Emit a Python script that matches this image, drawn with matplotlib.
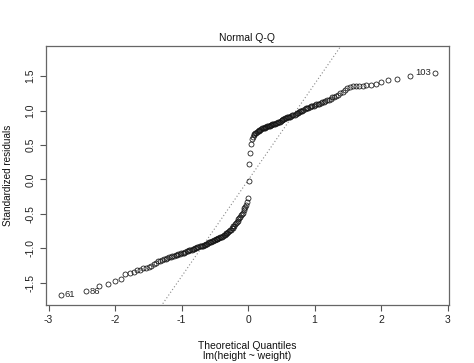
from statistics import NormalDist

import matplotlib
matplotlib.use('Agg')
import matplotlib.pyplot as plt
import numpy as np

plt.rcParams['font.family'] = ['Liberation Sans', 'DejaVu Sans']
plt.rcParams['axes.unicode_minus'] = False

# sorted standardized residuals, lm(height ~ weight), n = 200
resid_low = [
    -1.67, -1.62, -1.54, -1.51, -1.48, -1.45, -1.37, -1.35, -1.34, -1.32,
    -1.31, -1.29, -1.28, -1.27, -1.25, -1.23, -1.21, -1.19, -1.18, -1.17,
    -1.16, -1.15, -1.14, -1.13, -1.12, -1.11, -1.11, -1.10, -1.09, -1.08,
    -1.08, -1.07, -1.06, -1.06, -1.05, -1.04, -1.04, -1.03, -1.03, -1.02,
    -1.01, -1.01, -1.00, -0.99, -0.98, -0.98, -0.97, -0.97, -0.96, -0.96,
    -0.95, -0.95, -0.94, -0.93, -0.92, -0.91, -0.91, -0.90, -0.89, -0.89,
    -0.88, -0.88, -0.87, -0.86, -0.86, -0.85, -0.85, -0.84, -0.84, -0.83,
    -0.82, -0.81, -0.80, -0.79, -0.78, -0.77, -0.76, -0.75, -0.74, -0.73,
    -0.71, -0.70, -0.68, -0.67, -0.65, -0.63, -0.62, -0.60, -0.58, -0.56,
    -0.54, -0.52, -0.50, -0.48, -0.45, -0.42, -0.40, -0.37, -0.32, -0.27,
]
resid_high = [
    -0.02, 0.23, 0.38, 0.52, 0.58, 0.62, 0.64, 0.66, 0.67, 0.68,
    0.69, 0.70, 0.71, 0.72, 0.72, 0.73, 0.74, 0.74, 0.75, 0.75,
    0.76, 0.76, 0.77, 0.77, 0.78, 0.78, 0.79, 0.79, 0.80, 0.80,
    0.81, 0.81, 0.82, 0.82, 0.83, 0.84, 0.84, 0.85, 0.86, 0.87,
    0.88, 0.88, 0.89, 0.89, 0.90, 0.90, 0.91, 0.91, 0.92, 0.93,
    0.93, 0.94, 0.95, 0.96, 0.97, 0.98, 0.99, 0.99, 1.00, 1.01,
    1.02, 1.03, 1.03, 1.04, 1.05, 1.06, 1.06, 1.07, 1.08, 1.09,
    1.10, 1.10, 1.11, 1.12, 1.13, 1.14, 1.15, 1.16, 1.17, 1.19,
    1.20, 1.21, 1.23, 1.25, 1.27, 1.30, 1.33, 1.34, 1.35, 1.35,
    1.36, 1.36, 1.37, 1.37, 1.39, 1.42, 1.44, 1.46, 1.50, 1.55,
]
# observation ids of the three flagged points
flagged = {0: '61', 1: '86', 199: '103'}

xticks = [-3, -2, -1, 0, 1, 2, 3]
yticks = [-1.5, -1.0, -0.5, 0.0, 0.5, 1.0, 1.5]

rs = np.array(resid_low + resid_high)
n = len(rs)
nd = NormalDist()
# theoretical quantiles as in R's ppoints()
qx = np.array([nd.inv_cdf((i - 0.5) / n) for i in range(1, n + 1)])

# qqline through the first and third quartiles
q_y = np.quantile(rs, [0.25, 0.75])
q_x = np.array([nd.inv_cdf(0.25), nd.inv_cdf(0.75)])
slope = (q_y[1] - q_y[0]) / (q_x[1] - q_x[0])
icept = q_y[0] - slope * q_x[0]

fig = plt.figure(figsize=(4.74, 3.63), dpi=100)
ax = fig.add_axes([0.097, 0.160, 0.850, 0.713])

xl = (-3.04, 3.02)
yl = (-1.82, 1.935)
line_x = np.array(xl)
ax.plot(line_x, icept + slope * line_x, color='#888888', ls=(0, (1, 2)), lw=0.8, zorder=1)
ax.plot(qx, rs, 'o', mfc='none', mec='#111111', mew=0.55, ms=3.6, zorder=2)

for i, lab in flagged.items():
    if qx[i] < 0:
        ax.annotate(lab, (qx[i], rs[i]), xytext=(2.5, 0), textcoords='offset points',
                    ha='left', va='center', fontsize=6.8, color='#222222')
    else:
        ax.annotate(lab, (qx[i], rs[i]), xytext=(-2.5, 0), textcoords='offset points',
                    ha='right', va='center', fontsize=6.8, color='#222222')

ax.set_xlim(*xl)
ax.set_ylim(*yl)
ax.set_xticks(xticks)
ax.set_yticks(yticks)
ax.set_xticklabels([str(t) for t in xticks])
ax.set_yticklabels(['%.1f' % t for t in yticks], rotation=90, va='center')
ax.tick_params(direction='out', length=4.5, width=0.8, colors='#555555',
               labelcolor='#222222', labelsize=7.5, pad=3)
for s in ax.spines.values():
    s.set_color('#666666')
    s.set_linewidth(0.9)

ax.set_title('Normal Q-Q', fontsize=7.5, pad=4, color='#111111')
ax.set_xlabel('Theoretical Quantiles\nlm(height ~ weight)', fontsize=7.5,
              labelpad=11, linespacing=1.1, color='#111111')
ax.set_ylabel('Standardized residuals', fontsize=7.2, labelpad=9, color='#111111')

fig.savefig('out.png', dpi=100)
